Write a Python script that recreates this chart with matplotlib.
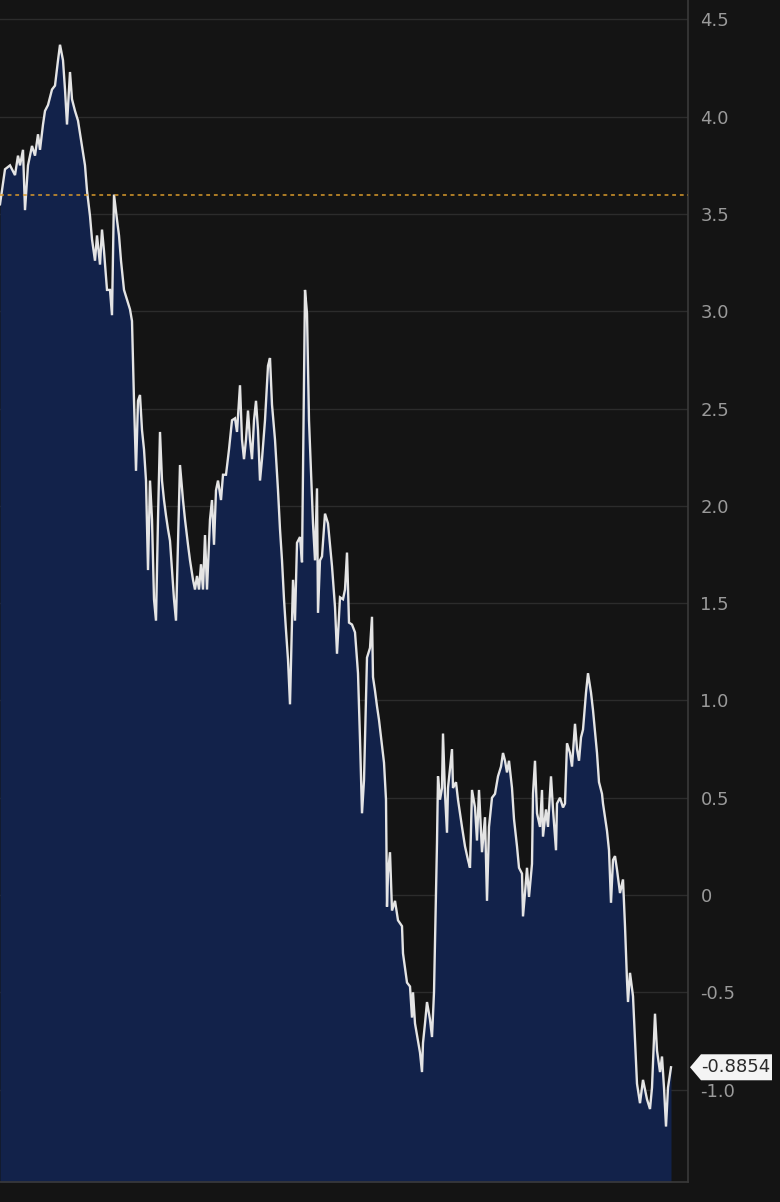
import numpy as np
import matplotlib

matplotlib.use("Agg")
import matplotlib.pyplot as plt
from matplotlib.patches import Polygon
from matplotlib.ticker import FuncFormatter

# session index and level
t = [0, 5, 10, 15, 18, 20, 23, 25, 28, 32, 35, 38, 40, 43, 45, 48, 52, 55, 58, 60,
     63, 65, 67, 70, 72, 75, 78, 82, 85, 87, 90, 92, 95, 97, 100, 102, 104, 107, 110, 112,
     114, 117, 119, 121, 124, 127, 130, 132, 134, 136, 138, 140, 142, 144, 146, 148, 150, 152, 154, 156,
     158, 160, 162, 164, 166, 168, 170, 172, 174, 176, 178, 180, 183, 185, 188, 190, 193, 195, 197, 199,
     201, 203, 205, 207, 210, 212, 214, 216, 218, 221, 223, 226, 229, 232, 235, 237, 240, 242, 244, 246,
     248, 250, 252, 254, 256, 258, 260, 262, 265, 268, 270, 272, 275, 278, 280, 282, 284, 286, 288, 290,
     293, 295, 297, 300, 302, 305, 307, 309, 312, 313, 315, 317, 318, 320, 322, 325, 328, 332, 335, 337,
     340, 343, 345, 347, 349, 352, 355, 358, 360, 362, 364, 367, 370, 372, 373, 375, 377, 379, 381, 384,
     386, 387, 388, 390, 392, 395, 398, 402, 403, 407, 410, 412, 413, 415, 418, 420, 422, 423, 425, 427,
     430, 432, 434, 437, 438, 440, 442, 443, 445, 447, 448, 452, 453, 456, 458, 462, 465, 468, 470, 472,
     475, 477, 479, 482, 485, 487, 489, 492, 495, 498, 501, 503, 505, 507, 509, 512, 514, 517, 519, 522,
     523, 525, 527, 529, 532, 533, 535, 537, 540, 542, 543, 546, 548, 551, 553, 556, 557, 560, 563, 565,
     567, 570, 572, 575, 577, 579, 581, 583, 586, 588, 591, 593, 597, 599, 602, 603, 607, 609, 611, 613,
     615, 617, 620, 623, 625, 627, 628, 630, 633, 637, 640, 643, 647, 650, 652, 655, 657, 660, 662, 664,
     666, 668, 671]
level = [3.55, 3.73, 3.75, 3.70, 3.80, 3.75, 3.83, 3.52, 3.75, 3.85, 3.80, 3.91, 3.83, 3.96, 4.03, 4.06, 4.14, 4.16, 4.29, 4.37,
         4.29, 4.14, 3.96, 4.23, 4.09, 4.03, 3.98, 3.85, 3.75, 3.62, 3.49, 3.37, 3.26, 3.39, 3.24, 3.42, 3.31, 3.11, 3.11, 2.98,
         3.60, 3.47, 3.39, 3.26, 3.11, 3.06, 3.01, 2.95, 2.54, 2.18, 2.54, 2.57, 2.39, 2.29, 2.13, 1.67, 2.13, 1.93, 1.52, 1.41,
         1.93, 2.38, 2.13, 2.03, 1.95, 1.88, 1.82, 1.67, 1.52, 1.41, 1.82, 2.21, 2.03, 1.93, 1.80, 1.72, 1.62, 1.57, 1.64, 1.57,
         1.70, 1.57, 1.85, 1.57, 1.93, 2.03, 1.80, 2.08, 2.13, 2.03, 2.16, 2.16, 2.29, 2.44, 2.45, 2.38, 2.62, 2.34, 2.24, 2.34,
         2.49, 2.34, 2.24, 2.44, 2.54, 2.39, 2.13, 2.24, 2.44, 2.72, 2.76, 2.52, 2.34, 2.08, 1.88, 1.72, 1.52, 1.36, 1.21, 0.98,
         1.62, 1.41, 1.81, 1.84, 1.71, 3.11, 2.99, 2.44, 2.05, 1.91, 1.72, 2.09, 1.45, 1.72, 1.74, 1.96, 1.91, 1.69, 1.48, 1.24,
         1.53, 1.52, 1.57, 1.76, 1.40, 1.39, 1.35, 1.14, 0.80, 0.42, 0.59, 1.22, 1.27, 1.43, 1.12, 1.05, 0.97, 0.90, 0.81, 0.68,
         0.49, -0.06, 0.11, 0.22, -0.08, -0.03, -0.13, -0.16, -0.30, -0.45, -0.47, -0.63, -0.50, -0.66, -0.75, -0.81, -0.91, -0.76, -0.66, -0.55,
         -0.64, -0.73, -0.50, 0.27, 0.61, 0.49, 0.55, 0.83, 0.52, 0.32, 0.55, 0.75, 0.55, 0.58, 0.49, 0.35, 0.25, 0.18, 0.14, 0.54,
         0.45, 0.28, 0.54, 0.22, 0.40, -0.03, 0.35, 0.50, 0.52, 0.61, 0.66, 0.73, 0.69, 0.63, 0.69, 0.55, 0.39, 0.25, 0.14, 0.11,
         -0.11, 0.01, 0.14, -0.01, 0.16, 0.52, 0.69, 0.42, 0.35, 0.54, 0.30, 0.44, 0.35, 0.61, 0.44, 0.23, 0.47, 0.50, 0.45, 0.47,
         0.78, 0.73, 0.66, 0.88, 0.75, 0.69, 0.81, 0.85, 1.04, 1.14, 1.04, 0.95, 0.73, 0.58, 0.52, 0.47, 0.33, 0.23, -0.04, 0.18,
         0.20, 0.13, 0.01, 0.08, -0.16, -0.44, -0.55, -0.40, -0.52, -0.97, -1.07, -0.95, -1.05, -1.10, -0.99, -0.61, -0.80, -0.91, -0.83, -0.99,
         -1.19, -0.99, -0.8854]

ref_level = 3.60
yticks = [-1.0, -0.5, 0, 0.5, 1.0, 1.5, 2.0, 2.5, 3.0, 3.5, 4.0, 4.5]

BG = "#141414"

fig = plt.figure(figsize=(7.8, 12.02), dpi=100, facecolor=BG)
ax = fig.add_axes([0.0, 20 / 1202, 688 / 780, 1 - 20 / 1202])
ax.set_facecolor(BG)

ymin, ymax = -1.475, 4.60
ax.fill_between(t, level, ymin, color="#12224a", lw=0, zorder=2)
ax.plot(t, level, color="#e4e4e4", lw=1.7, zorder=3, solid_joinstyle="miter")
ax.axhline(ref_level, color="#d99a2b", lw=1.1, ls=(0, (2.5, 2.5)), zorder=4)

ax.set_xlim(0, 688)
ax.set_ylim(ymin, ymax)
ax.set_yticks(yticks)
ax.yaxis.set_major_formatter(FuncFormatter(lambda v, _: "0" if v == 0 else f"{v:.1f}"))
ax.yaxis.tick_right()
ax.tick_params(axis="y", length=0, pad=9, labelsize=13, labelcolor="#9a9a9a")
ax.set_xticks([])
ax.grid(axis="y", color="#2c2c2c", lw=1.0, zorder=1)

for s in ("left", "top"):
    ax.spines[s].set_visible(False)
for s in ("right", "bottom"):
    ax.spines[s].set_color("#3a3a3a")
    ax.spines[s].set_linewidth(1.2)

# last-value tag
fig.canvas.draw()
last = level[-1]
_, yd = ax.transData.transform((688, last))
xd = ax.transAxes.transform((1, 0))[0]
h = 13
tag = Polygon([(xd + 2, yd), (xd + 13, yd + h), (xd + 84, yd + h), (xd + 84, yd - h), (xd + 13, yd - h)],
              closed=True, facecolor="#f4f4f4", edgecolor="none", transform=None, clip_on=False, zorder=10)
fig.add_artist(tag)
fig.text((xd + 48) / 780, yd / 1202, f"{last:.4f}", ha="center", va="center",
         fontsize=13, color="#2a2a2a", zorder=11)

fig.savefig("out.png", dpi=100, facecolor=BG)
